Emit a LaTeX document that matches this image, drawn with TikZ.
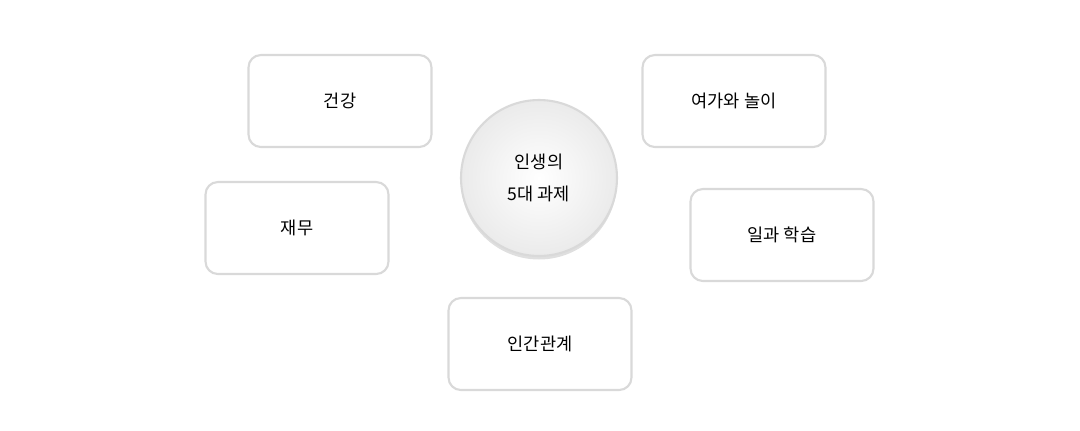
\documentclass[tikz,border=0pt]{standalone}
\usepackage{fontspec}
\setmainfont{Noto Sans CJK KR}
\usetikzlibrary{shadows}

\begin{document}
\begin{tikzpicture}[x=0.02cm,y=-0.02cm,
	task/.style={draw=black!15,line width=1.2pt,rounded corners=7pt,fill=white,
		minimum width=3.66cm,minimum height=1.84cm,font=\fontsize{10}{16}\selectfont},
	core/.style={circle,draw=black!15,line width=1.2pt,minimum size=3.12cm,
		inner color=white,outer color=black!8,
		drop shadow={opacity=0.25,shadow xshift=0pt,shadow yshift=-2pt},
		align=center,font=\fontsize{10}{18}\selectfont}]
	\useasboundingbox (0,0) rectangle (1080,430);
	\node[core] (life) at (539,178) {인생의\\5대 과제};
	\node[task] (health) at (340,101) {건강};
	\node[task] (leisure) at (734,101) {여가와 놀이};
	\node[task] (money) at (297,228) {재무};
	\node[task] (work) at (782,235) {일과 학습};
	\node[task] (people) at (540,344) {인간관계};
\end{tikzpicture}
\end{document}
